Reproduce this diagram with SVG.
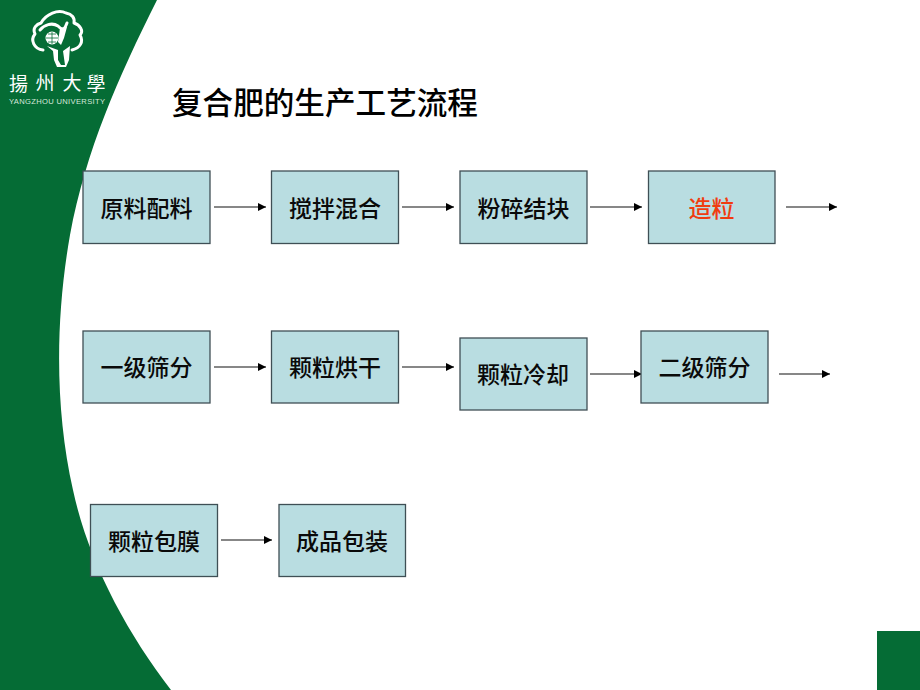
<svg xmlns="http://www.w3.org/2000/svg" width="920" height="690" viewBox="0 0 920 690">
<style>
.cjk{font-family:"Liberation Sans","Noto Sans CJK SC",sans-serif}
.box{fill:#b9dde1;stroke:#3f4f55;stroke-width:1.3}
.lbl{font-size:23px;font-weight:500;fill:#0a0a0a;text-anchor:middle}
.ln{stroke:#111;stroke-width:1.1;fill:none;marker-end:url(#a)}
.g{fill:#056c35}
.w{fill:#fff}
.s{fill:none;stroke:#fff;stroke-width:3;stroke-linecap:round;stroke-linejoin:round}
</style>
<defs><marker id="a" markerUnits="userSpaceOnUse" markerWidth="9" markerHeight="8" refX="8" refY="4" orient="auto"><path d="M0 0L8 4L0 8Z" fill="#000"/></marker></defs>
<rect width="920" height="690" fill="#fff"/>
<g id="background">
<path class="g" d="M0 0H157C118 78 86 150 70 235C55 320 55 410 73 490C88 560 125 630 171 690H0Z"/>
<rect class="g" x="877" y="631" width="43" height="59"/>
</g>
<g id="logo">
<path class="s" d="M43 50C34 49 30 40 35 34C32 28 37 24 41 23C46 14 58 9 66 13C72 14 75 18 74 23C80 25 84 31 80 35C84 42 80 48 72 50"/>
<path class="s" stroke-width="2" d="M40 30C44 25 52 22 58 26C62 30 64 31 67 23"/>
<path class="w" d="M60 28L67 27L64 38L61 45L58 42Z"/>
<circle class="w" cx="52" cy="38" r="6.500"/>
<path d="M46 38H58M52 32V44M48 34H56M48 42H56" stroke="#056c35" stroke-width=".8"/>
<path class="w" d="M47 46L58 50V60L61 65H65L63 51L70 46L69 60L66 67H57L54 60L53 51Z"/>
<g class="cjk" font-size="19" fill="#fff" text-anchor="middle"><text x="18.500" y="91">揚</text><text x="45" y="90">州</text><text x="72" y="90">大</text><text x="96" y="91">學</text></g>
<text x="57" y="104" font-family="Liberation Sans,sans-serif" font-size="7.600" fill="#d8e8dc" text-anchor="middle" textLength="96">YANGZHOU UNIVERSITY</text>
</g>
<text id="title" class="cjk" x="172" y="114" font-size="30.600" font-weight="500" fill="#000">复合肥的生产工艺流程</text>
<g id="connectors">
<path class="ln" d="M214 207H266"/><path class="ln" d="M402 207H454"/><path class="ln" d="M590 207H642"/><path class="ln" d="M786 207H837"/>
<path class="ln" d="M214 367H266"/><path class="ln" d="M402 367H454"/><path class="ln" d="M590 374H642"/><path class="ln" d="M779 374H830"/>
<path class="ln" d="M221 540H272"/>
</g>
<g id="n1"><rect class="box" x="83" y="171" width="127" height="72.500"/><text class="lbl cjk" x="146.500" y="217">原料配料</text></g>
<g id="n2"><rect class="box" x="271.500" y="171" width="127" height="72.500"/><text class="lbl cjk" x="335" y="217">搅拌混合</text></g>
<g id="n3"><rect class="box" x="460" y="171" width="127" height="72.500"/><text class="lbl cjk" x="523.500" y="217">粉碎结块</text></g>
<g id="n4"><rect class="box" x="648.500" y="171" width="126.500" height="72.500"/><text class="lbl cjk" x="711.500" y="217" style="fill:#f03c10">造粒</text></g>
<g id="n5"><rect class="box" x="83" y="331" width="127" height="72"/><text class="lbl cjk" x="146.500" y="376">一级筛分</text></g>
<g id="n6"><rect class="box" x="271.500" y="331" width="127" height="72"/><text class="lbl cjk" x="335" y="376">颗粒烘干</text></g>
<g id="n7"><rect class="box" x="460" y="338" width="127" height="72"/><text class="lbl cjk" x="523" y="383">颗粒冷却</text></g>
<g id="n8"><rect class="box" x="641" y="331" width="127" height="72"/><text class="lbl cjk" x="704.500" y="376">二级筛分</text></g>
<g id="n9"><rect class="box" x="90.500" y="504.500" width="127" height="72"/><text class="lbl cjk" x="154" y="550">颗粒包膜</text></g>
<g id="n10"><rect class="box" x="279" y="504.500" width="126.500" height="72"/><text class="lbl cjk" x="342" y="550">成品包装</text></g>
</svg>
